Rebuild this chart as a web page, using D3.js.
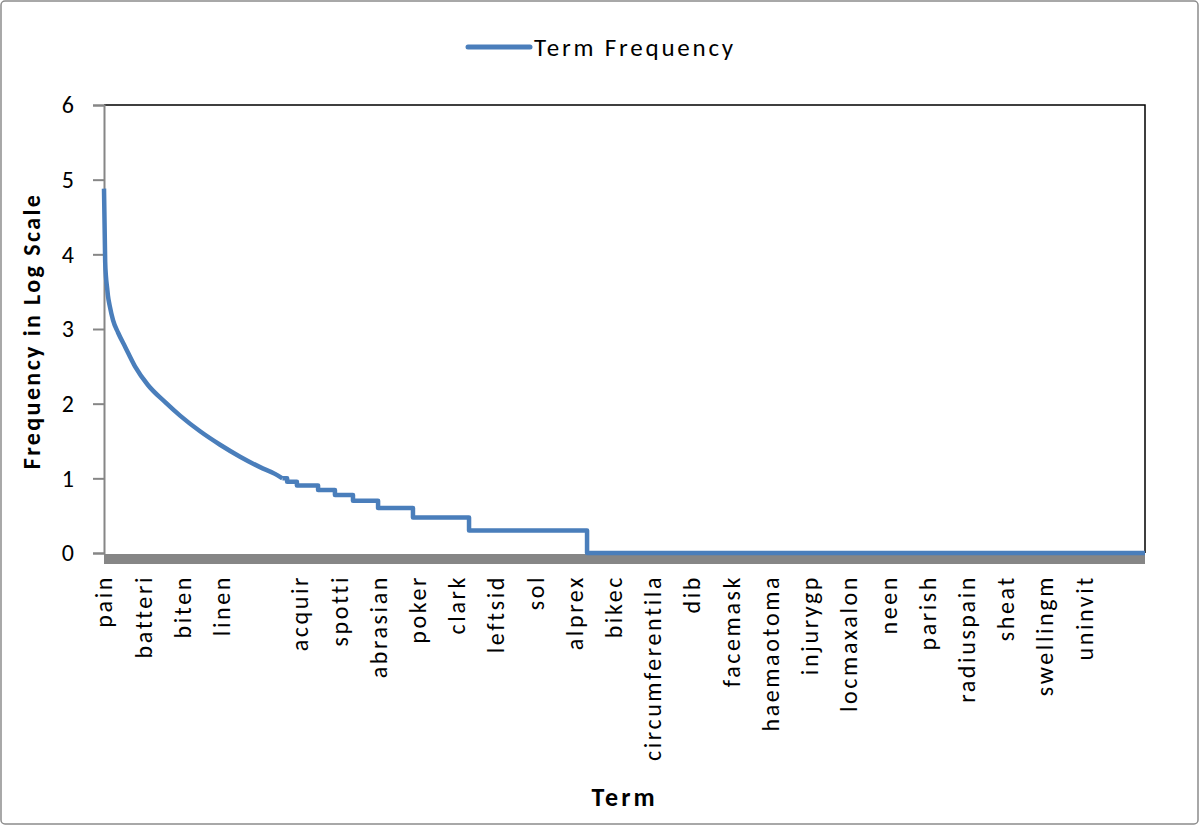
<!DOCTYPE html>
<html>
<head>
<meta charset="utf-8">
<script src="https://cdn.jsdelivr.net/npm/d3@7"></script>
<style>
  body { margin: 0; background: #fff; }
  svg { font-family: Carlito, Lato, sans-serif; }
</style>
</head>
<body>
<svg id="chart" width="1200" height="826"></svg>
<script>
// terms shown on the category axis (one label every 100 terms)
var terms = ["pain", "batteri", "biten", "linen", "", "acquir", "spotti", "abrasian", "poker", "clark",
  "leftsid", "sol", "alprex", "bikec", "circumferentila", "dib", "facemask", "haemaotoma",
  "injurygp", "locmaxalon", "neen", "parish", "radiuspain", "sheat", "swellingm", "uninvit"]
var termCount = 2655
var firstLabelRank = 20
var labelEvery = 100

// head of the curve (rank, log10 frequency)
var headRank = [0, 3, 5, 8, 10, 15, 23, 36, 54, 79, 112, 156, 194, 245, 296, 347, 398, 436, 455]
var headLogFreq = [4.88, 3.9, 3.7, 3.55, 3.45, 3.3, 3.12, 2.95, 2.76, 2.5, 2.25, 2.02, 1.84, 1.63, 1.45, 1.29, 1.15, 1.06, 1.0]

// tail is flat steps: rank where each level starts, and the level
var stepRank = [455, 467, 492, 546, 589, 635, 699, 788, 931, 1232, 2655]
var stepLogFreq = [1.0, 0.954, 0.903, 0.845, 0.778, 0.699, 0.602, 0.477, 0.301, 0, 0]

var yTicks = [0, 1, 2, 3, 4, 5, 6]

var svg = d3.select("#chart")
var blue = "#4a7ebb"
var axisGray = "#868686"
var font = "Carlito, Lato, sans-serif"

svg.append("rect").attr("x", 1).attr("y", 1).attr("width", 1197).attr("height", 823)
  .attr("rx", 4).attr("fill", "#fff").attr("stroke", "#8c8c8c").attr("stroke-width", 1.5)

var x = d3.scaleLinear().domain([0, termCount]).range([104, 1145])
var y = d3.scaleLinear().domain([0, 6]).range([553, 105])

// plot area frame (top + right)
svg.append("path").attr("d", "M" + x(0) + "," + y(6) + "H" + x(termCount) + "V" + y(0))
  .attr("fill", "none").attr("stroke", "#000").attr("stroke-width", 1.5)

// x axis band
svg.append("rect").attr("x", x(0)).attr("y", y(0) + 1).attr("width", x(termCount) - x(0)).attr("height", 10)
  .attr("fill", axisGray)

var yAxis = svg.append("g").attr("transform", "translate(" + x(0) + ",0)")
  .call(d3.axisLeft(y).tickValues(yTicks).tickSize(11).tickPadding(19).tickFormat(d3.format("d")))
yAxis.select(".domain").attr("stroke", axisGray).attr("stroke-width", 2)
yAxis.selectAll(".tick line").attr("stroke", axisGray).attr("stroke-width", 2)
yAxis.selectAll("text").attr("font-size", 24).attr("fill", "#000").attr("font-family", font)

var labelRanks = terms.map(function(t, i) { return firstLabelRank + i * labelEvery })
var xAxis = svg.append("g").attr("transform", "translate(0," + y(0) + ")")
  .call(d3.axisBottom(x).tickValues(labelRanks).tickSize(0).tickFormat(function(d, i) { return terms[i] }))
xAxis.select(".domain").remove()
xAxis.selectAll("text")
  .attr("transform", "rotate(-90)").attr("text-anchor", "end")
  .attr("x", -22).attr("y", 0).attr("dy", 0)
  .attr("font-size", 24).attr("letter-spacing", 2.6).attr("fill", "#000").attr("font-family", font)

var headLine = d3.line().x(function(d) { return x(d[0]) }).y(function(d) { return y(d[1]) }).curve(d3.curveMonotoneX)
var stepLine = d3.line().x(function(d) { return x(d[0]) }).y(function(d) { return y(d[1]) }).curve(d3.curveStepAfter)

svg.append("path").datum(d3.zip(headRank, headLogFreq)).attr("d", headLine)
  .attr("fill", "none").attr("stroke", blue).attr("stroke-width", 4.5).attr("stroke-linejoin", "round")
svg.append("path").datum(d3.zip(stepRank, stepLogFreq)).attr("d", stepLine)
  .attr("fill", "none").attr("stroke", blue).attr("stroke-width", 4.5).attr("stroke-linejoin", "round")

// legend
svg.append("line").attr("x1", 468).attr("x2", 530).attr("y1", 47).attr("y2", 47)
  .attr("stroke", blue).attr("stroke-width", 5).attr("stroke-linecap", "round")
svg.append("text").text("Term Frequency").attr("x", 534).attr("y", 56)
  .attr("font-size", 25).attr("letter-spacing", 2.8)

// axis titles
svg.append("text").text("Frequency in Log Scale").attr("transform", "translate(40,331) rotate(-90)")
  .attr("text-anchor", "middle").attr("font-size", 24).attr("font-weight", "bold").attr("letter-spacing", 2.4)
svg.append("text").text("Term").attr("x", (x(0) + x(termCount)) / 2).attr("y", 806)
  .attr("text-anchor", "middle").attr("font-size", 26).attr("font-weight", "bold").attr("letter-spacing", 3)
</script>
</body>
</html>
